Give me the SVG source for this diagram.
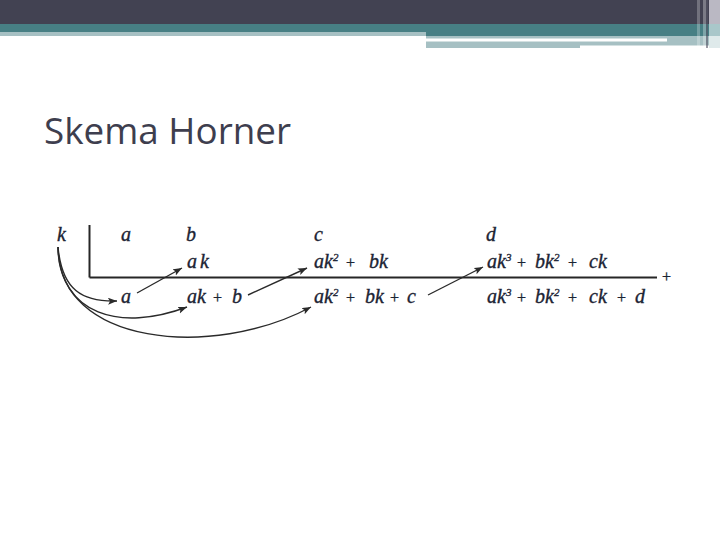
<svg xmlns="http://www.w3.org/2000/svg" width="720" height="540" viewBox="0 0 720 540">
<style>
.m{font-family:"Liberation Serif","Times New Roman",serif;font-style:italic;font-size:20px;fill:#1c2434;stroke:#1c2434;stroke-width:0.35}
.p{font-style:normal;font-size:16px}
.s{font-size:11px}
.ln{stroke:#262626;stroke-width:2;fill:none}
.ar{stroke:#2a2a2a;stroke-width:1.4;fill:none;marker-end:url(#ah)}
</style>
<defs>
<marker id="ah" markerUnits="userSpaceOnUse" markerWidth="10" markerHeight="8" refX="9" refY="3.5" orient="auto">
<path d="M0,0 L9,3.5 L0,7 L2,3.5 z" fill="#2a2a2a"/>
</marker>
</defs>
<rect width="720" height="540" fill="#ffffff"/>
<g id="header">
<rect x="0" y="0" width="720" height="24" fill="#424252"/>
<rect x="0" y="24" width="720" height="8" fill="#477f84"/>
<rect x="426" y="32" width="294" height="4" fill="#477f84"/>
<rect x="0" y="32" width="426" height="4" fill="#a6c0c3"/>
<rect x="426" y="36" width="284" height="12" fill="#a6c0c3"/>
<rect x="426" y="38.5" width="241" height="3" fill="#ffffff"/>
<rect x="580" y="45.5" width="130" height="3" fill="#ffffff"/>
<rect x="697" y="0" width="3" height="48" fill="#ffffff" opacity="0.25"/>
<rect x="703" y="0" width="3" height="48" fill="#ffffff" opacity="0.3"/>
<rect x="706" y="0" width="2" height="48" fill="#555566" opacity="0.6"/>
<rect x="709" y="0" width="11" height="24" fill="#bab8c3"/>
<rect x="709" y="24" width="11" height="12" fill="#a9c7ca"/>
<rect x="709" y="36" width="11" height="12" fill="#dfeaeb"/>
</g>
<text id="title" x="44" y="144" font-family="'Open Sans','Noto Sans',sans-serif" font-size="37" fill="#3e3e4e" textLength="247" lengthAdjust="spacingAndGlyphs">Skema Horner</text>
<g id="frame">
<line class="ln" x1="89.5" y1="225" x2="89.5" y2="277.5"/>
<line class="ln" x1="89.5" y1="277.5" x2="657" y2="277.5"/>
<text class="m" x="662" y="282"><tspan class="p">+</tspan></text>
</g>
<g id="k"><text class="m" x="57" y="241">k</text></g>
<g id="row1">
<text class="m" x="121" y="241">a</text>
<text class="m" x="186" y="241">b</text>
<text class="m" x="314" y="241">c</text>
<text class="m" x="486" y="241">d</text>
</g>
<g id="row2">
<text class="m" y="268"><tspan x="187">a</tspan><tspan x="200">k</tspan></text>
<text class="m" y="268"><tspan x="314">ak</tspan><tspan class="s" x="333" y="261">2</tspan><tspan class="p" x="346" y="268">+</tspan><tspan x="369">bk</tspan></text>
<text class="m" y="268"><tspan x="487">ak</tspan><tspan class="s" x="506" y="261">3</tspan><tspan class="p" x="517" y="268">+</tspan><tspan x="535">bk</tspan><tspan class="s" x="554" y="261">2</tspan><tspan class="p" x="568" y="268">+</tspan><tspan x="589">ck</tspan></text>
</g>
<g id="row3">
<text class="m" x="121" y="303">a</text>
<text class="m" y="303"><tspan x="187">ak</tspan><tspan class="p" x="213">+</tspan><tspan x="232">b</tspan></text>
<text class="m" y="303"><tspan x="314">ak</tspan><tspan class="s" x="333" y="296">2</tspan><tspan class="p" x="346" y="303">+</tspan><tspan x="365">bk</tspan><tspan class="p" x="390">+</tspan><tspan x="407">c</tspan></text>
<text class="m" y="303"><tspan x="487">ak</tspan><tspan class="s" x="506" y="296">3</tspan><tspan class="p" x="517" y="303">+</tspan><tspan x="535">bk</tspan><tspan class="s" x="554" y="296">2</tspan><tspan class="p" x="568" y="303">+</tspan><tspan x="589">ck</tspan><tspan class="p" x="617" y="303">+</tspan><tspan x="635">d</tspan></text>
</g>
<g id="connectors">
<line class="ar" x1="137" y1="293" x2="182" y2="268"/>
<line class="ar" x1="248" y1="295" x2="307" y2="268"/>
<line class="ar" x1="428" y1="295" x2="483" y2="267"/>
<path class="ar" d="M58,247 C62,290 82,302 117,301"/>
<path class="ar" d="M58,247 C60,315 120,332 187,307"/>
<path class="ar" d="M58,247 C58,345 212,360 311,307"/>
</g>
</svg>
